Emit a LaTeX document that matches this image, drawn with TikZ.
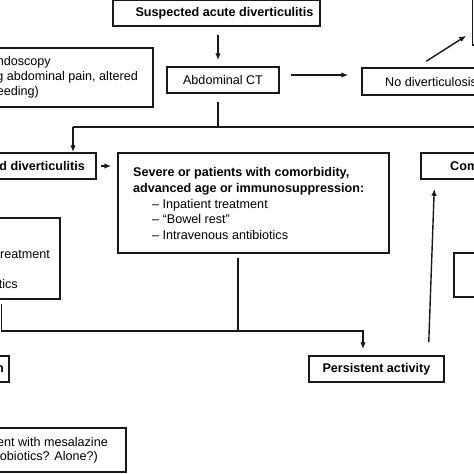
\documentclass[tikz,border=0pt]{standalone}
\usepackage{fontspec}
\setmainfont{Liberation Sans}
\usetikzlibrary{arrows.meta}
\tikzset{ bx/.style = { rectangle % frame
, draw = black!90
, line width = 1.5pt
, inner sep = 0pt
}
, tx/.style = { inner sep = 0pt % plain text
, font = \fontsize{12.6}{15.8}\selectfont
}
, tb/.style = { tx % bold text
, font = \fontsize{12.6}{15.8}\selectfont\bfseries
}
, ln/.style = { draw = black!90 % connector
, line width = 1.4pt
}
, ar/.style = { ln % arrow
, -{Latex[length=7pt,width=5.5pt]}
}
}
\def\frm(#1,#2)(#3,#4)#5{% frame by corners
\pgfmathsetmacro{\fw}{#3-#1}
\pgfmathsetmacro{\fh}{#4-#2}
\node[bx, minimum width=\fw pt, minimum height=\fh pt] (#5) at ({(#1+#3)/2},{(#2+#4)/2}) {};
}

\begin{document}
\begin{tikzpicture}[x=1pt, y=-1pt]
                    \useasboundingbox (0,0) rectangle (474,474);
                    \clip (0,0) rectangle (474,474);
                    % frames
                    \frm(113,0.5)(320,26){susp}
                    \frm(167,67)(279,93){ct}
                    \frm(362,68)(500,95){nodiv}
                    \frm(472.5,-10)(540,45){misc}
                    \frm(-20,48)(153,107){endo}
                    \frm(-20,153)(96,179){uncomp}
                    \frm(118,153)(389,253){severe}
                    \frm(421,153)(540,179){comp}
                    \frm(454,253)(540,297){cplx}
                    \frm(-20,218)(60,299){outpat}
                    \frm(309,356)(444,382){pers}
                    \frm(-20,356)(9,382){remis}
                    \frm(-20,428)(126,472){mesal}
                    % texts
                    \node[tb] (susp-t) at (224.5,13) {Suspected acute diverticulitis};
                    \node[tx] (ct-t) at (223,80) {Abdominal CT};
                    \node[tx, anchor=west] (nodiv-t) at (385,82) {No diverticulosis};
                    \node[tx, anchor=east] (endo-a) at (51,62) {ndoscopy};
                    \node[tx, anchor=east] (endo-b) at (138,77) {g abdominal pain, altered};
                    \node[tx, anchor=east] (endo-c) at (39,92) {eeding)};
                    \node[tb, anchor=east] (uncomp-t) at (85,166) {d diverticulitis};
                    \node[tx, anchor=west, align=left] (severe-t) at (133,203.5)
                        {\textbf{Severe or patients with comorbidity,}\\
                         \textbf{advanced age or immunosuppression:}\\
                         \hspace{19pt}-- Inpatient treatment\\
                         \hspace{19pt}-- “Bowel rest”\\
                         \hspace{19pt}-- Intravenous antibiotics};
                    \node[tb, anchor=west] (comp-t) at (450,166) {Com};
                    \node[tx, anchor=east] (outpat-a) at (50,254) {reatment};
                    \node[tx, anchor=east] (outpat-b) at (18,284) {tics};
                    \node[tb] (pers-t) at (376.5,369) {Persistent activity};
                    \node[tb, anchor=east] (remis-t) at (4,369) {n};
                    \node[tx, anchor=east] (mesal-a) at (108,442) {ent with mesalazine};
                    \node[tx, anchor=east] (mesal-b) at (98,457) {obiotics? Alone?)};
                    % connectors
                    \coordinate (spine) at (218,127);
                    \coordinate (split) at (73,127);
                    \coordinate (farR) at (480,127);
                    \coordinate (sevdn) at (238,331);
                    \coordinate (merge) at (363,331);
                    \coordinate (lbr) at (1.5,331);
                    \draw[ar, shorten <=8pt, shorten >=6pt] (spine |- susp.south) -- (spine |- ct.north);
                    \draw[ln, shorten <=8pt] (spine |- ct.south) -- (spine);
                    \draw[ln] (split) -- (farR);
                    \draw[ar] (split) -- (split |- uncomp.north);
                    \draw[ar, shorten <=11pt, shorten >=13pt] ([yshift=5pt]ct.east) -- ([yshift=5pt]ct.east -| nodiv.west);
                    \draw[ar] ([shift={(65pt,6pt)}]nodiv.north west) -- ([shift={(-5.5pt,10pt)}]misc.south west);
                    \draw[ar, shorten <=4pt, shorten >=6pt] (uncomp.east) -- (uncomp.east -| severe.west);
                    \draw[ln, shorten <=4pt] (sevdn |- severe.south) -- (sevdn);
                    \draw[ar, shorten <=4pt, shorten >=6pt] (outpat.south -| lbr) -- (lbr) -- (merge) -- (merge |- pers.north);
                    \draw[ar] ([shift={(-16pt,13pt)}]pers.north east) -- ([shift={(14pt,-9pt)}]comp.south west);
                \end{tikzpicture}
\end{document}
